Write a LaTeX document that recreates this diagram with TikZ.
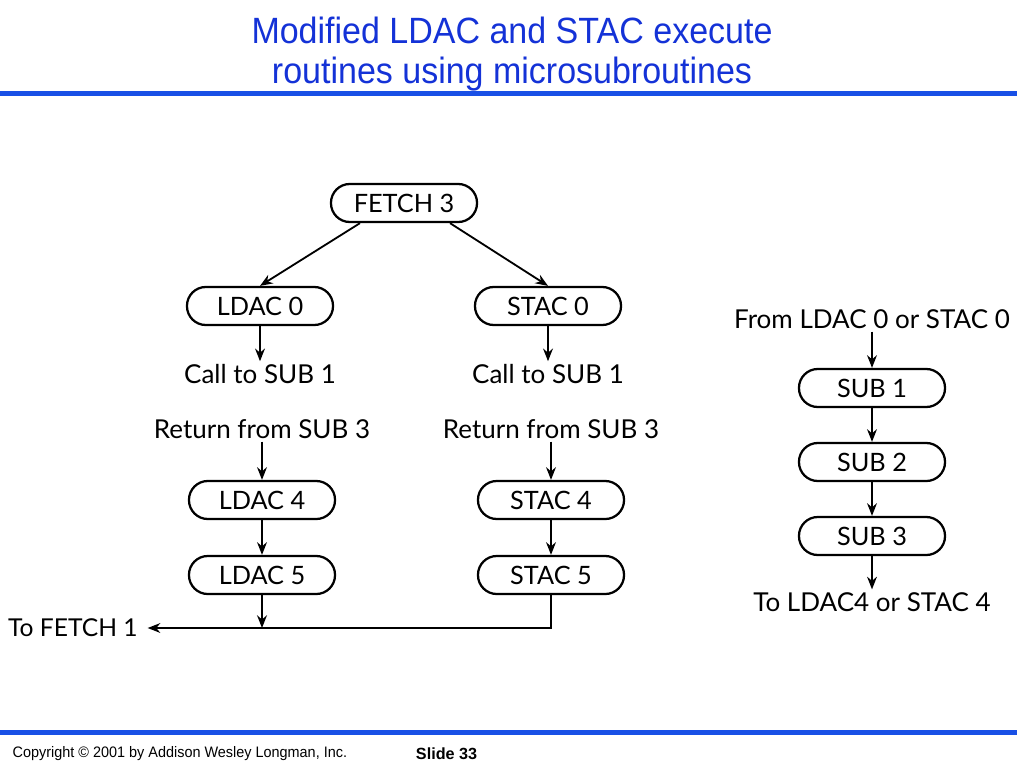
\documentclass[tikz,border=0pt]{standalone}
\usepackage{fontspec}
\setmainfont{Liberation Sans}
\newfontfamily\flowfont{Lato}
\usetikzlibrary{arrows.meta,calc}
\definecolor{slideblue}{RGB}{25,80,230}
\definecolor{titleblue}{RGB}{20,50,215}
\tikzset{
	stepnode/.style={rectangle, rounded corners=0.47cm, draw=black, line width=1.6pt, minimum width=3.65cm, minimum height=0.95cm, font=\flowfont\fontsize{18}{21}\selectfont},
	flowlabel/.style={font=\flowfont\fontsize{18.5}{21}\selectfont, inner sep=2pt},
	flowarrow/.style={line width=1.3pt, -{Stealth[length=9pt,width=7pt]}}
}

\begin{document}
\begin{tikzpicture}[x=0.025cm,y=-0.025cm]
			\useasboundingbox (0,0) rectangle (1024,768);
			
			\node[text=titleblue, align=center, xscale=0.93, font=\fontsize{26}{29}\selectfont] (title) at (512,54) {Modified LDAC and STAC execute\\routines using microsubroutines};
			\fill[slideblue] (0,91) rectangle (1017,96);
			\fill[slideblue] (0,730) rectangle (1017,735);
			\node[anchor=west, xscale=0.95, font=\fontsize{10.8}{12}\selectfont] (copy) at (8,754) {Copyright \textcopyright{} 2001 by Addison Wesley Longman, Inc.};
			\node[anchor=west, font=\bfseries\fontsize{11.5}{12}\selectfont] (slide) at (411,754) {Slide 33};
			
			\node[stepnode] (fetch3) at (404,203) {FETCH 3};
			\node[stepnode] (ldac0) at (260,306) {LDAC 0};
			\node[stepnode] (stac0) at (548,306) {STAC 0};
			\node[flowlabel] (callL) at (260,374) {Call to SUB 1};
			\node[flowlabel] (callS) at (548,374) {Call to SUB 1};
			\node[flowlabel] (retL) at (262,429) {Return from SUB 3};
			\node[flowlabel] (retS) at (551,429) {Return from SUB 3};
			\node[stepnode] (ldac4) at (262,500) {LDAC 4};
			\node[stepnode] (stac4) at (551,500) {STAC 4};
			\node[stepnode] (ldac5) at (262,575) {LDAC 5};
			\node[stepnode] (stac5) at (551,575) {STAC 5};
			\node[flowlabel, anchor=west, font=\flowfont\fontsize{17.5}{21}\selectfont] (tofetch) at (5,628) {To FETCH 1};
			
			\node[flowlabel] (fromsub) at (872,319) {From LDAC 0 or STAC 0};
			\node[stepnode] (sub1) at (872,388) {SUB 1};
			\node[stepnode] (sub2) at (872,462) {SUB 2};
			\node[stepnode] (sub3) at (872,536) {SUB 3};
			\node[flowlabel] (tosub) at (872,602) {To LDAC4 or STAC 4};
			
			% left routines
			\draw[flowarrow] ($(fetch3.south)+(-44,0)$) -- (ldac0.north);
			\draw[flowarrow] ($(fetch3.south)+(46,0)$) -- (stac0.north);
			\draw[flowarrow] (ldac0.south) -- (callL.north);
			\draw[flowarrow] (stac0.south) -- (callS.north);
			\draw[flowarrow] (retL.south) -- (ldac4.north);
			\draw[flowarrow] (retS.south) -- (stac4.north);
			\draw[flowarrow] (ldac4) -- (ldac5);
			\draw[flowarrow] (stac4) -- (stac5);
			\draw[flowarrow] (ldac5.south) -- (ldac5.south |- tofetch.east);
			\draw[flowarrow, shorten >=5pt] (stac5.south) |- (tofetch.east);
			
			% subroutines
			\draw[flowarrow] (fromsub) -- (sub1);
			\draw[flowarrow] (sub1) -- (sub2);
			\draw[flowarrow] (sub2) -- (sub3);
			\draw[flowarrow] (sub3) -- (tosub);
\end{tikzpicture}
\end{document}
